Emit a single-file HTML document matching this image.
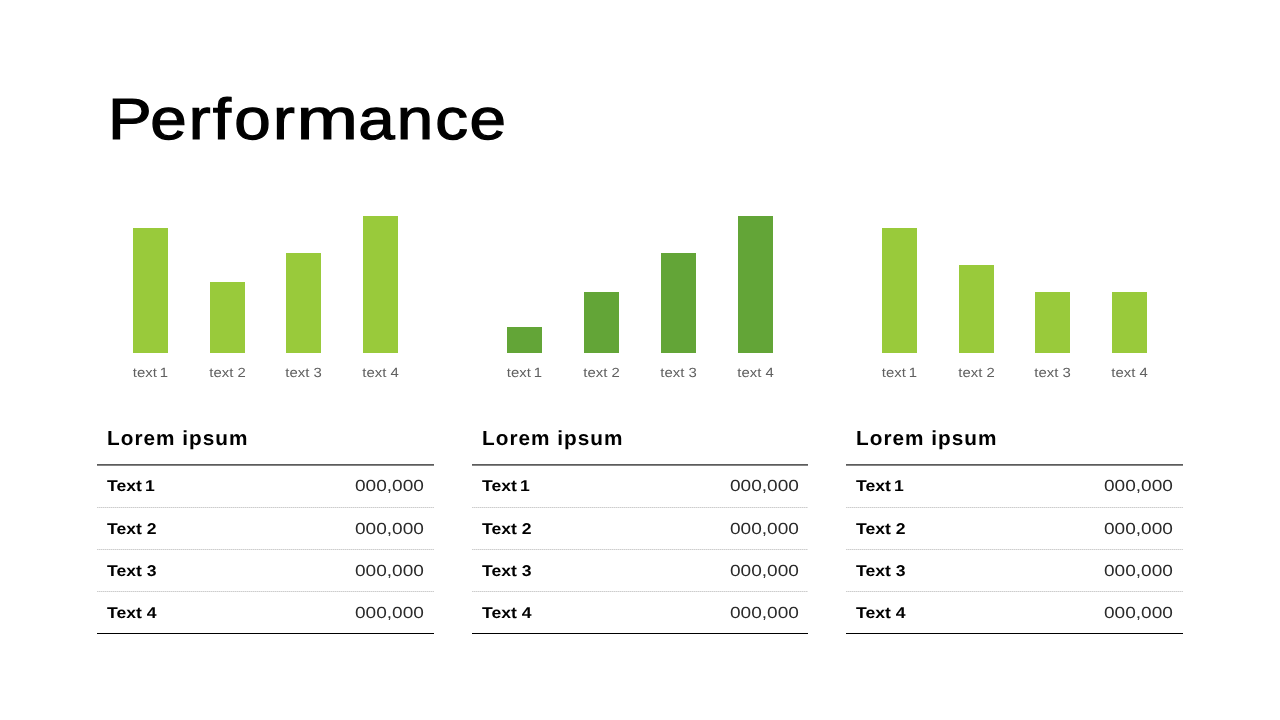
<!DOCTYPE html>
<html lang="en">
<head>
<meta charset="utf-8">
<title>Performance</title>
<style>
  html, body { margin: 0; padding: 0; background: #ffffff; }
  body { width: 1280px; height: 720px; overflow: hidden; position: relative;
         font-family: "Liberation Sans", sans-serif; color: #000; text-rendering: geometricPrecision; }
  .abs { position: absolute; white-space: nowrap; }
  h1.title { position: absolute; margin: 0; left: 107.5px; top: 86px; font-size: 58px; line-height: 68px;
             font-weight: normal; letter-spacing: 1.9px; white-space: nowrap; -webkit-text-stroke: 1.2px #000;
             transform-origin: 0 50%; transform: scaleX(1.13); }
  .bar { position: absolute; width: 35px; }
  .lg { background: #99ca3b; }
  .dg { background: #63a537; }
  .lbl { position: absolute; width: 77px; text-align: center; font-size: 13.3px; line-height: 16px;
         color: #606060; top: 365px; white-space: nowrap; transform: scaleX(1.12); }
  .tbl { position: absolute; top: 420px; width: 337px; height: 214px; }
  .tbl h2 { position: absolute; margin: 0; left: 10.2px; top: 7px; font-size: 20.3px; line-height: 24px;
            font-weight: bold; letter-spacing: 1px; white-space: nowrap;
            transform-origin: 0 50%; transform: scaleX(1.023); }
  .hl { position: absolute; left: 0; right: 0; top: 44px; height: 2px; background: linear-gradient(to bottom, #5c5c5c 0, #5c5c5c 1px, #858585 1px, #858585 2px); }
  .rl { position: absolute; left: 0; right: 0; height: 1px; background: repeating-linear-gradient(to right, #cdcdcd 0, #cdcdcd 1px, #e4e4e4 1px, #e4e4e4 2px); }
  .bl { position: absolute; left: 0; right: 0; top: 213px; height: 1px; background: #000; }
  .row { position: absolute; left: 0; right: 0; height: 41px; }
  .row .k { position: absolute; left: 10.4px; top: 12.15px; font-size: 15.6px; line-height: 18px; font-weight: bold;
            white-space: nowrap; transform-origin: 0 50%; transform: scaleX(1.13); }
  .row .k.one { word-spacing: -1.5px; }
  .row.lo .k { top: 13.15px; }
  .row.lo .v { top: 13px; }
  .t2 .row .v { right: 9px; }
  .lbl.one { word-spacing: -1px; }
  .row .v { position: absolute; right: 10px; top: 12px; font-size: 16px; line-height: 18px; color: #2b2b2b;
            white-space: nowrap; transform-origin: 100% 50%; transform: scaleX(1.19); }
</style>
</head>
<body>
  <h1 class="title" aria-label="Performance"><span style="letter-spacing:-1.3px">P</span>er<span style="letter-spacing:2.9px">f</span>or<span style="display:inline-block; transform:scaleX(1.12); margin:0 0.8px 0 3.2px;">m</span>an<span style="letter-spacing:1.3px">c</span>e</h1>

  <!-- chart 1 -->
  <div class="bar lg" style="left:133px; top:228px; height:125px;"></div>
  <div class="bar lg" style="left:210px; top:282px; height:71px;"></div>
  <div class="bar lg" style="left:286px; top:253px; height:100px;"></div>
  <div class="bar lg" style="left:363px; top:216px; height:137px;"></div>
  <div class="lbl one" style="left:112px;">text 1</div>
  <div class="lbl" style="left:189px;">text 2</div>
  <div class="lbl" style="left:265px;">text 3</div>
  <div class="lbl" style="left:342px;">text 4</div>

  <!-- chart 2 -->
  <div class="bar dg" style="left:507px; top:327px; height:26px;"></div>
  <div class="bar dg" style="left:584px; top:292px; height:61px;"></div>
  <div class="bar dg" style="left:661px; top:253px; height:100px;"></div>
  <div class="bar dg" style="left:738px; top:216px; height:137px;"></div>
  <div class="lbl one" style="left:486px;">text 1</div>
  <div class="lbl" style="left:563px;">text 2</div>
  <div class="lbl" style="left:640px;">text 3</div>
  <div class="lbl" style="left:717px;">text 4</div>

  <!-- chart 3 -->
  <div class="bar lg" style="left:882px; top:228px; height:125px;"></div>
  <div class="bar lg" style="left:959px; top:265px; height:88px;"></div>
  <div class="bar lg" style="left:1035px; top:292px; height:61px;"></div>
  <div class="bar lg" style="left:1112px; top:292px; height:61px;"></div>
  <div class="lbl one" style="left:861px;">text 1</div>
  <div class="lbl" style="left:938px;">text 2</div>
  <div class="lbl" style="left:1014px;">text 3</div>
  <div class="lbl" style="left:1091px;">text 4</div>

  <!-- table 1 -->
  <div class="tbl" style="left:97px;">
    <h2>Lorem ipsum</h2>
    <div class="hl"></div>
    <div class="row" style="top:46px;"><span class="k one">Text 1</span><span class="v">000,000</span></div>
    <div class="rl" style="top:87px;"></div>
    <div class="row lo" style="top:88px;"><span class="k">Text 2</span><span class="v">000,000</span></div>
    <div class="rl" style="top:129px;"></div>
    <div class="row lo" style="top:130px;"><span class="k">Text 3</span><span class="v">000,000</span></div>
    <div class="rl" style="top:171px;"></div>
    <div class="row lo" style="top:172px;"><span class="k">Text 4</span><span class="v">000,000</span></div>
    <div class="bl"></div>
  </div>

  <!-- table 2 -->
  <div class="tbl t2" style="left:472px; width:336px;">
    <h2>Lorem ipsum</h2>
    <div class="hl"></div>
    <div class="row" style="top:46px;"><span class="k one">Text 1</span><span class="v">000,000</span></div>
    <div class="rl" style="top:87px;"></div>
    <div class="row lo" style="top:88px;"><span class="k">Text 2</span><span class="v">000,000</span></div>
    <div class="rl" style="top:129px;"></div>
    <div class="row lo" style="top:130px;"><span class="k">Text 3</span><span class="v">000,000</span></div>
    <div class="rl" style="top:171px;"></div>
    <div class="row lo" style="top:172px;"><span class="k">Text 4</span><span class="v">000,000</span></div>
    <div class="bl"></div>
  </div>

  <!-- table 3 -->
  <div class="tbl" style="left:846px;">
    <h2>Lorem ipsum</h2>
    <div class="hl"></div>
    <div class="row" style="top:46px;"><span class="k one">Text 1</span><span class="v">000,000</span></div>
    <div class="rl" style="top:87px;"></div>
    <div class="row lo" style="top:88px;"><span class="k">Text 2</span><span class="v">000,000</span></div>
    <div class="rl" style="top:129px;"></div>
    <div class="row lo" style="top:130px;"><span class="k">Text 3</span><span class="v">000,000</span></div>
    <div class="rl" style="top:171px;"></div>
    <div class="row lo" style="top:172px;"><span class="k">Text 4</span><span class="v">000,000</span></div>
    <div class="bl"></div>
  </div>
</body>
</html>
